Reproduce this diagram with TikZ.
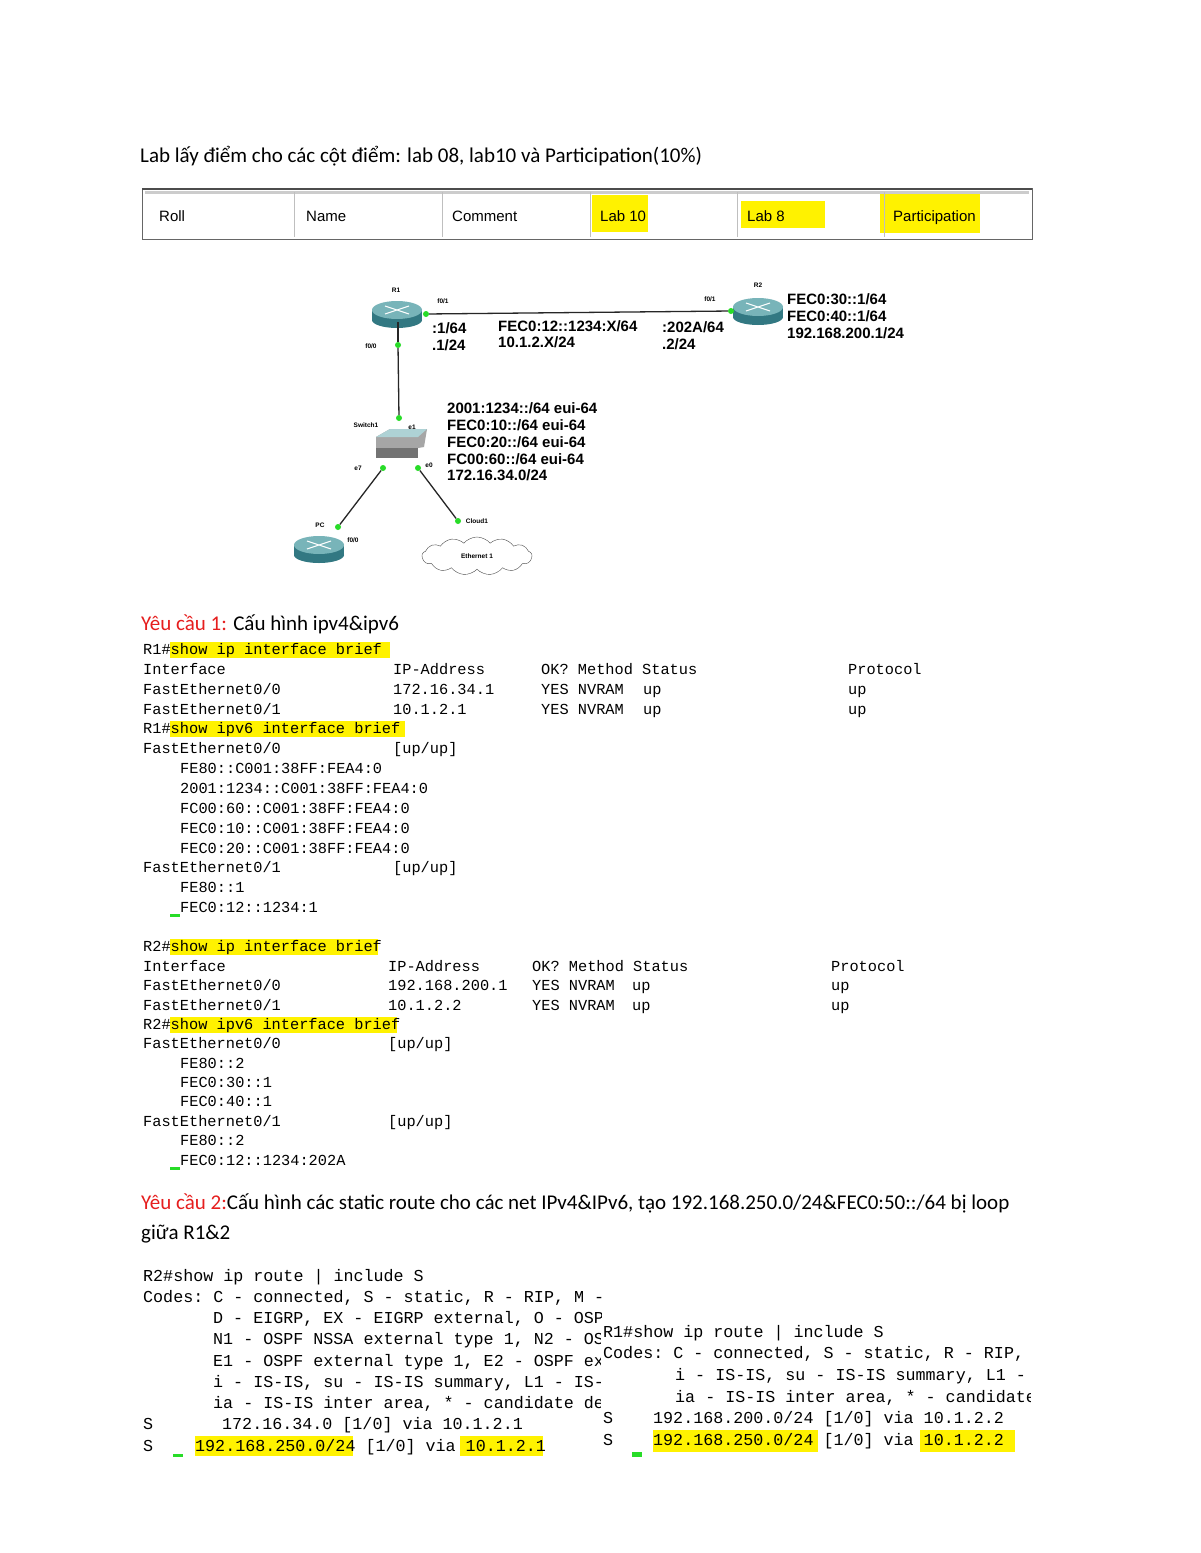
\documentclass[tikz,border=0pt]{standalone}
\usepackage{fontspec}
\setmainfont{Carlito}
\setsansfont{Liberation Sans}
\setmonofont{Liberation Mono}
\usetikzlibrary{shapes.symbols}
\definecolor{hl}{RGB}{255,242,0}
\definecolor{req}{RGB}{230,30,30}
\definecolor{rtop}{RGB}{120,180,185}
\definecolor{rbody}{RGB}{50,120,130}
\definecolor{gdot}{RGB}{40,220,40}
\tikzset{
 mA/.style={anchor=base west,inner sep=0pt,font=\fontsize{15.3}{15.3}\selectfont\ttfamily},
 mB/.style={anchor=base west,inner sep=0pt,font=\fontsize{16.7}{16.7}\selectfont\ttfamily},
 lbl/.style={anchor=base west,inner sep=0pt,font=\fontsize{15}{15}\selectfont\sffamily\bfseries},
 tiny/.style={inner sep=0pt,font=\fontsize{6.5}{6.5}\selectfont\sffamily\bfseries},
 hdr/.style={anchor=base west,inner sep=0pt,font=\fontsize{15}{15}\selectfont\sffamily},
 txt/.style={anchor=base west,inner sep=0pt,font=\fontsize{21}{21}\selectfont},
 dot/.style={circle,fill=gdot,inner sep=0pt,minimum size=6pt},
 link/.style={line width=1.3pt,black!85},
}
\newcommand{\router}[2]{%
 \fill[rbody] (#1-25,#2) rectangle (#1+25,#2+10);
 \fill[rbody] (#1,#2+10) ellipse (25 and 8);
 \fill[rtop] (#1,#2) ellipse (25 and 9);
 \draw[white,line width=1pt] (#1-12,#2-4)--(#1+12,#2+4) (#1-12,#2+4)--(#1+12,#2-4);
}
\begin{document}
\begin{tikzpicture}[x=1pt,y=-1pt]
\useasboundingbox[fill=white] (0,0) rectangle (1200,1553);
% title
\node[txt] (title) at (140,162) {Lab lấy điểm cho các cột điểm: lab 08, lab10 và Participation(10\%)};
% table
\fill[hl] (592,195) rectangle (648,232);
\fill[hl] (741,201) rectangle (825,228);
\fill[hl] (880,191) rectangle (980,233);
\draw[black!60,line width=0.8pt] (142,188) rectangle (1032,239);
\draw[black!70,line width=2.5pt] (142,189) -- (1032,189);
\draw[black!20,line width=3pt] (145,192) -- (1029,192);
\foreach \x in {294,442,590,737,884} \draw[black!25] (\x,192) -- (\x,237);
\node[hdr] at (159,221) {Roll};
\node[hdr] at (306,221) {Name};
\node[hdr] at (452,221) {Comment};
\node[hdr] at (600,221) {Lab 10};
\node[hdr] at (747,221) {Lab 8};
\node[hdr] at (893,221) {Participation};
% topology
\router{397}{310}
\router{758}{307}
\router{319}{545}
\fill[black!35] (376,437) -- (390,429) -- (427,429) -- (424,447) -- (376,455) -- cycle;
\fill[black!55] (376,448) rectangle (418,458);
\fill[rtop!60!white] (376,437) -- (390,429) -- (427,429) -- (418,437) -- cycle;
\node[cloud,draw=black!70,fill=white,cloud puffs=13,cloud puff arc=100,aspect=3.2,minimum width=110pt,minimum height=38pt] (cloud) at (477,556) {};
\node[tiny] at (477,556) {Ethernet 1};
\node[dot] (r1a) at (426,314) {};
\node[dot] (r2a) at (731,311) {};
\node[dot] (r1b) at (398,345) {};
\node[dot] (swa) at (399,418) {};
\node[dot] (swb) at (383,468) {};
\node[dot] (swc) at (418,468) {};
\node[dot] (pca) at (338,527) {};
\node[dot] (cla) at (458,521) {};
\draw[link] (r1a) -- (r2a);
\draw[link] (r1b) -- (swa);
\draw[link] (398,322) -- (r1b);
\draw[link] (swb) -- (pca);
\draw[link] (swc) -- (cla);
\node[tiny] at (396,290) {R1};
\node[tiny] at (758,285) {R2};
\node[tiny] at (443,301) {f0/1};
\node[tiny] at (710,299) {f0/1};
\node[tiny] at (371,346) {f0/0};
\node[tiny] at (366,425) {Switch1};
\node[tiny] at (412,427) {e1};
\node[tiny] at (358,468) {e7};
\node[tiny] at (429,465) {e0};
\node[tiny] at (320,525) {PC};
\node[tiny] at (353,540) {f0/0};
\node[tiny] at (477,521) {Cloud1};
\node[lbl] at (432,333) {:1/64};
\node[lbl] at (432,350) {.1/24};
\node[lbl] at (498,331) {FEC0:12::1234:X/64};
\node[lbl] at (498,347) {10.1.2.X/24};
\node[lbl] at (662,332) {:202A/64};
\node[lbl] at (662,349) {.2/24};
\node[lbl] at (787,304) {FEC0:30::1/64};
\node[lbl] at (787,321) {FEC0:40::1/64};
\node[lbl] at (787,338) {192.168.200.1/24};
\node[lbl] at (447,413) {2001:1234::/64 eui-64};
\node[lbl] at (447,430) {FEC0:10::/64 eui-64};
\node[lbl] at (447,447) {FEC0:20::/64 eui-64};
\node[lbl] at (447,464) {FC00:60::/64 eui-64};
\node[lbl] at (447,480) {172.16.34.0/24};
% Yeu cau 1
\node[txt] at (141,630) {\textcolor{req}{Yêu cầu 1:} Cấu hình ipv4\&ipv6};
\fill[hl] (170,642) rectangle (390,658);
\fill[hl] (170,721) rectangle (405,737);
\fill[hl] (170,939) rectangle (378,955);
\fill[hl] (170,1017) rectangle (397,1033);
\fill[gdot] (170,914) rectangle (180,917);
\fill[gdot] (170,1167) rectangle (180,1170);
\node[mA] at (143,654) {R1\#show ip interface brief};
\node[mA] at (143,674) {Interface};
\node[mA] at (393,674) {IP-Address};
\node[mA] at (541,674) {OK? Method Status};
\node[mA] at (848,674) {Protocol};
\node[mA] at (143,694) {FastEthernet0/0};
\node[mA] at (393,694) {172.16.34.1};
\node[mA] at (541,694) {YES NVRAM};
\node[mA] at (643,694) {up};
\node[mA] at (848,694) {up};
\node[mA] at (143,714) {FastEthernet0/1};
\node[mA] at (393,714) {10.1.2.1};
\node[mA] at (541,714) {YES NVRAM};
\node[mA] at (643,714) {up};
\node[mA] at (848,714) {up};
\node[mA] at (143,733) {R1\#show ipv6 interface brief};
\node[mA] at (143,753) {FastEthernet0/0};
\node[mA] at (393,753) {[up/up]};
\node[mA] at (180,773) {FE80::C001:38FF:FEA4:0};
\node[mA] at (180,793) {2001:1234::C001:38FF:FEA4:0};
\node[mA] at (180,813) {FC00:60::C001:38FF:FEA4:0};
\node[mA] at (180,833) {FEC0:10::C001:38FF:FEA4:0};
\node[mA] at (180,853) {FEC0:20::C001:38FF:FEA4:0};
\node[mA] at (143,872) {FastEthernet0/1};
\node[mA] at (393,872) {[up/up]};
\node[mA] at (180,892) {FE80::1};
\node[mA] at (180,912) {FEC0:12::1234:1};
\node[mA] at (143,951) {R2\#show ip interface brief};
\node[mA] at (143,971) {Interface};
\node[mA] at (388,971) {IP-Address};
\node[mA] at (532,971) {OK? Method Status};
\node[mA] at (831,971) {Protocol};
\node[mA] at (143,990) {FastEthernet0/0};
\node[mA] at (388,990) {192.168.200.1};
\node[mA] at (532,990) {YES NVRAM};
\node[mA] at (632,990) {up};
\node[mA] at (831,990) {up};
\node[mA] at (143,1010) {FastEthernet0/1};
\node[mA] at (388,1010) {10.1.2.2};
\node[mA] at (532,1010) {YES NVRAM};
\node[mA] at (632,1010) {up};
\node[mA] at (831,1010) {up};
\node[mA] at (143,1029) {R2\#show ipv6 interface brief};
\node[mA] at (143,1048) {FastEthernet0/0};
\node[mA] at (388,1048) {[up/up]};
\node[mA] at (180,1068) {FE80::2};
\node[mA] at (180,1087) {FEC0:30::1};
\node[mA] at (180,1106) {FEC0:40::1};
\node[mA] at (143,1126) {FastEthernet0/1};
\node[mA] at (388,1126) {[up/up]};
\node[mA] at (180,1145) {FE80::2};
\node[mA] at (180,1165) {FEC0:12::1234:202A};
% Yeu cau 2
\node[txt] at (141,1209) {\textcolor{req}{Yêu cầu 2:}Cấu hình các static route cho các net IPv4\&IPv6, tạo 192.168.250.0/24\&FEC0:50::/64 bị loop};
\node[txt] at (141,1239) {giữa R1\&2};
\fill[hl] (195,1436) rectangle (353,1456);
\fill[hl] (460,1436) rectangle (543,1456);
\fill[gdot] (173,1454) rectangle (183,1457);
\begin{scope}
\clip (130,1260) rectangle (601,1470);
\node[mB] at (143,1281) {R2\#show ip route | include S};
\node[mB] at (143,1302) {Codes: C - connected, S - static, R - RIP, M - mobile};
\node[mB] at (213,1323) {D - EIGRP, EX - EIGRP external, O - OSPF};
\node[mB] at (213,1344) {N1 - OSPF NSSA external type 1, N2 - OSPF};
\node[mB] at (213,1366) {E1 - OSPF external type 1, E2 - OSPF external};
\node[mB] at (213,1387) {i - IS-IS, su - IS-IS summary, L1 - IS-IS};
\node[mB] at (213,1408) {ia - IS-IS inter area, * - candidate default};
\node[mB] at (143,1429) {S};
\node[mB] at (222,1429) {172.16.34.0 [1/0] via 10.1.2.1};
\node[mB] at (143,1451) {S};
\node[mB] at (195,1451) {192.168.250.0/24 [1/0] via 10.1.2.1};
\end{scope}
\fill[white] (601,1318) rectangle (1032,1468);
\fill[hl] (653,1430) rectangle (818,1452);
\fill[hl] (920,1430) rectangle (1015,1452);
\fill[gdot] (632,1452) rectangle (642,1457);
\begin{scope}
\clip (601,1318) rectangle (1030,1468);
\node[mB] at (603,1337) {R1\#show ip route | include S};
\node[mB] at (603,1358) {Codes: C - connected, S - static, R - RIP, M};
\node[mB] at (675,1380) {i - IS-IS, su - IS-IS summary, L1 - IS};
\node[mB] at (675,1402) {ia - IS-IS inter area, * - candidate};
\node[mB] at (603,1423) {S};
\node[mB] at (653,1423) {192.168.200.0/24 [1/0] via 10.1.2.2};
\node[mB] at (603,1445) {S};
\node[mB] at (653,1445) {192.168.250.0/24 [1/0] via 10.1.2.2};
\end{scope}
\end{tikzpicture}
\end{document}
